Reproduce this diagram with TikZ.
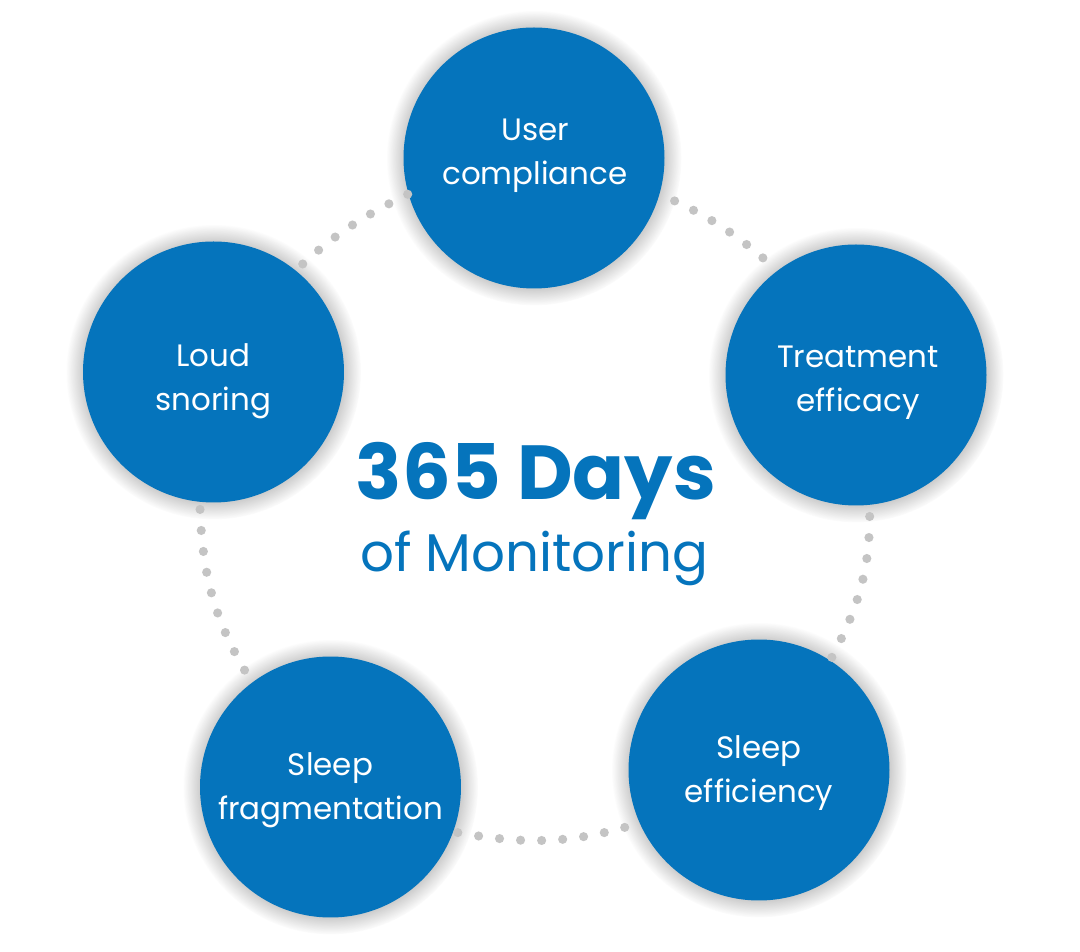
\documentclass[tikz,border=0pt]{standalone}
\usepackage{fontspec}
\setmainfont{Poppins}
\usetikzlibrary{shadows}
\definecolor{circleblue}{HTML}{0574BC}
\definecolor{dotgrey}{HTML}{C4C4C4}
\tikzset{
  topic/.style={circle,fill=circleblue,minimum size=2.61cm,inner sep=0pt,
    circular drop shadow={shadow xshift=0cm,shadow yshift=0cm,shadow scale=1.13,opacity=.38,fill=black!65}},
  topictext/.style={text=white,align=center,font=\fontsize{8.8}{12.5}\selectfont},
  headline/.style={text=circleblue,anchor=base},
  dotlink/.style={dotgrey,line width=2.6pt,line cap=round,dash pattern=on 0pt off 6pt},
}
\begin{document}
\begin{tikzpicture}[x=0.1cm,y=-0.1cm]
\useasboundingbox (0,0) rectangle (108,95.2);
\node[topic,label={[topictext,xshift=.01cm,yshift=.02cm]center:{User\\compliance}}] (user) at (53.4,15.8) {};
\node[topic,label={[topictext,xshift=.02cm,yshift=-.08cm]center:{Treatment\\efficacy}}] (treatment) at (85.6,37.5) {};
\node[topic,label={[topictext,yshift=-.03cm]center:{Sleep\\efficiency}}] (efficiency) at (75.9,77) {};
\node[topic,label={[topictext,yshift=-.03cm]center:{Sleep\\fragmentation}}] (fragmentation) at (33.05,78.7) {};
\node[topic,label={[topictext,yshift=-.09cm]center:{Loud\\snoring}}] (snoring) at (21.35,37.2) {};
\node[headline,font=\fontsize{21.8}{24}\bfseries\selectfont] (days) at (53.6,50) {365 Days};
\node[headline,font=\fontsize{15.1}{18}\selectfont] (monitoring) at (53.45,57.2) {of Monitoring};

\draw[dotlink,shorten <=.16cm,shorten >=.16cm] (user.-16) to[bend left=8] (treatment.127);
\draw[dotlink,shorten <=.11cm] (treatment.-84) to[bend left=14] (efficiency.57);
\draw[dotlink,shorten <=.15cm,shorten >=.02cm] (efficiency.204) to[bend left=13] (fragmentation.-20);
\draw[dotlink,shorten <=.14cm,shorten >=.06cm] (fragmentation.127) to[bend left=14] (snoring.-96);
\draw[dotlink,shorten <=.09cm,shorten >=-.03cm] (snoring.51) to[bend left=8] (user.196);
\end{tikzpicture}
\end{document}
